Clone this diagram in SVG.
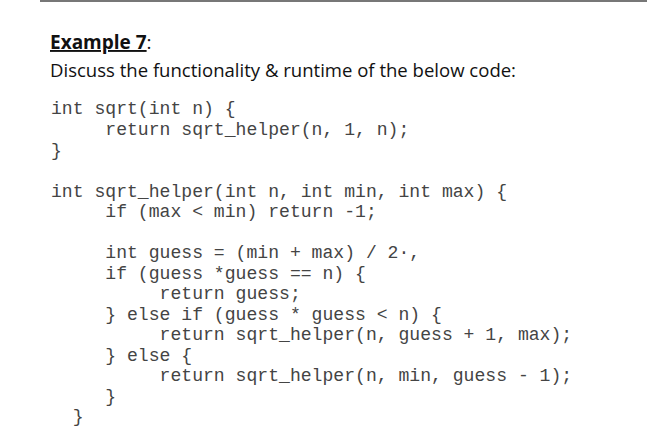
<svg xmlns="http://www.w3.org/2000/svg" width="647" height="441" viewBox="0 0 647 441">
<style>
.c{font-family:"Liberation Mono",monospace;font-size:18.1px;fill:#444;white-space:pre}
.h{font-family:"Open Sans","Liberation Sans",sans-serif;font-size:19px;fill:#111}
</style>
<rect width="647" height="441" fill="#fff"/>
<line x1="40" y1="1" x2="647" y2="1" stroke="#777" stroke-width="2"/>
<text class="h" x="50" y="49"><tspan text-decoration="underline" font-weight="bold">Example 7</tspan><tspan>:</tspan></text>
<text class="h" x="50" y="77" textLength="466" lengthAdjust="spacingAndGlyphs">Discuss the functionality &amp; runtime of the below code:</text>
<g xml:space="preserve">
<text class="c" x="51" y="114">int sqrt(int n) {</text>
<text class="c" x="51" y="135">     return sqrt_helper(n, 1, n);</text>
<text class="c" x="51" y="156">}</text>
<text class="c" x="51" y="197">int sqrt_helper(int n, int min, int max) {</text>
<text class="c" x="51" y="217">     if (max &lt; min) return -1;</text>
<text class="c" x="51" y="258">     int guess = (min + max) / 2·,</text>
<text class="c" x="51" y="279">     if (guess *guess == n) {</text>
<text class="c" x="51" y="299">          return guess;</text>
<text class="c" x="51" y="320">     } else if (guess * guess &lt; n) {</text>
<text class="c" x="51" y="340">          return sqrt_helper(n, guess + 1, max);</text>
<text class="c" x="51" y="361">     } else {</text>
<text class="c" x="51" y="381">          return sqrt_helper(n, min, guess - 1);</text>
<text class="c" x="51" y="402">     }</text>
<text class="c" x="51" y="422">  }</text>
</g>
</svg>
